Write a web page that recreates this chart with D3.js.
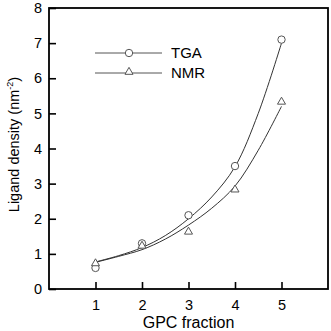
<!DOCTYPE html>
<html>
<head>
<meta charset="utf-8">
<script src="https://cdn.jsdelivr.net/npm/d3@7"></script>
<style>
  body { margin: 0; background: #fff; }
  svg { display: block; font-family: "Liberation Sans", Arial, sans-serif; }
</style>
</head>
<body>
<svg id="chart"></svg>
<script>
const width = 331;
const height = 331;

// measured points
const fractions = [1, 2, 3, 4, 5];
const tgaValues = [0.6, 1.3, 2.1, 3.5, 7.1];
const nmrValues = [0.7, 1.2, 1.6, 2.8, 5.3];

// fitted curves
const fitX = [1, 1.5, 2, 2.5, 3, 3.5, 4, 4.5, 5];
const tgaFit = [0.77, 0.95, 1.18, 1.52, 2.0, 2.62, 3.48, 5.0, 7.0];
const nmrFit = [0.76, 0.93, 1.12, 1.42, 1.82, 2.3, 2.93, 3.95, 5.2];

const xTicks = [1, 2, 3, 4, 5];
const yTicks = [0, 1, 2, 3, 4, 5, 6, 7, 8];

const margin = {top: 8, right: 3, bottom: 42, left: 49};

const svg = d3.select("#chart")
              .attr("width", width)
              .attr("height", height);

const x = d3.scaleLinear()
            .domain([0, 6])
            .range([margin.left, width - margin.right]);

const y = d3.scaleLinear()
            .domain([0, 8])
            .range([height - margin.bottom, margin.top]);

// frame
svg.append("rect")
   .attr("x", x(0))
   .attr("y", y(8))
   .attr("width", x(6) - x(0))
   .attr("height", y(0) - y(8))
   .attr("fill", "none")
   .attr("stroke", "#000")
   .attr("stroke-width", 1.8);

const xAxis = svg.append("g")
                 .attr("transform", "translate(0," + y(0) + ")")
                 .call(d3.axisBottom(x).tickValues(xTicks).tickFormat(d3.format("d"))
                         .tickSize(-7).tickSizeOuter(0).tickPadding(11));

const yAxis = svg.append("g")
                 .attr("transform", "translate(" + x(0) + ",0)")
                 .call(d3.axisLeft(y).tickValues(yTicks).tickFormat(d3.format("d"))
                         .tickSize(-7).tickSizeOuter(0).tickPadding(7));

[xAxis, yAxis].forEach(a => {
  a.select(".domain").remove();
  a.selectAll(".tick line").attr("stroke", "#000").attr("stroke-width", 1.6);
  a.selectAll(".tick text").attr("fill", "#000").style("font-size", "14.5px")
   .style("font-family", "'Liberation Sans', Arial, sans-serif");
});

svg.append("text")
   .attr("x", (x(0) + x(6)) / 2)
   .attr("y", 328)
   .attr("text-anchor", "middle")
   .style("font-size", "16px")
   .text("GPC fraction");

const ylab = svg.append("text")
   .attr("transform", "translate(19," + (y(4) - 4) + ") rotate(-90)")
   .attr("text-anchor", "middle")
   .style("font-size", "14.5px");
ylab.append("tspan").text("Ligand density (nm");
ylab.append("tspan").attr("dy", -6).style("font-size", "9px").text("-2");
ylab.append("tspan").attr("dy", 6).text(")");

const line = d3.line()
               .x(d => x(d[0]))
               .y(d => y(d[1]))
               .curve(d3.curveCatmullRom);

svg.append("path")
   .attr("d", line(d3.zip(fitX, tgaFit)))
   .attr("fill", "none")
   .attr("stroke", "#333")
   .attr("stroke-width", 1);

svg.append("path")
   .attr("d", line(d3.zip(fitX, nmrFit)))
   .attr("fill", "none")
   .attr("stroke", "#333")
   .attr("stroke-width", 1);

const markerStroke = "#555";
const tri = d3.symbol().type(d3.symbolTriangle).size(28);

svg.append("g")
   .selectAll("circle")
   .data(d3.zip(fractions, tgaValues))
   .enter()
   .append("circle")
   .attr("cx", d => x(d[0]))
   .attr("cy", d => y(d[1]))
   .attr("r", 3.7)
   .attr("fill", "#fff")
   .attr("stroke", markerStroke)
   .attr("stroke-width", 1);

svg.append("g")
   .selectAll("path")
   .data(d3.zip(fractions, nmrValues))
   .enter()
   .append("path")
   .attr("d", tri)
   .attr("transform", d => "translate(" + x(d[0]) + "," + (y(d[1]) - 1) + ")")
   .attr("fill", "#fff")
   .attr("stroke", markerStroke)
   .attr("stroke-width", 1);

// legend
const legend = svg.append("g");
const legendItems = [{label: "TGA", yPos: 53, shape: "circle"}, {label: "NMR", yPos: 73, shape: "triangle"}];
legendItems.forEach(item => {
  legend.append("line")
        .attr("x1", 95).attr("x2", 162)
        .attr("y1", item.yPos).attr("y2", item.yPos)
        .attr("stroke", "#555").attr("stroke-width", 1);
  if (item.shape === "circle") {
    legend.append("circle")
          .attr("cx", 129).attr("cy", item.yPos).attr("r", 3.7)
          .attr("fill", "#fff").attr("stroke", markerStroke);
  } else {
    legend.append("path")
          .attr("d", tri)
          .attr("transform", "translate(129," + (item.yPos - 1) + ")")
          .attr("fill", "#fff").attr("stroke", markerStroke);
  }
  legend.append("text")
        .attr("x", 171)
        .attr("y", item.yPos + 5)
        .style("font-size", "15px")
        .text(item.label);
});
</script>
</body>
</html>
